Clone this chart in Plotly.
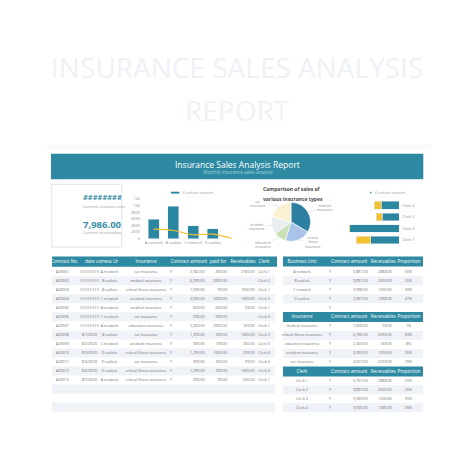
import math
import plotly.graph_objects as go

W, H = 474, 461
FONT = "Open Sans"
TEAL = "#2d8aa2"
BAR_TEAL = "#2b87a1"
YELLOW = "#f2c232"
TXT = "#6e6e6e"
LIGHT = "#9a9a9a"
STRIPE = "#eff2f6"
PIE_COLORS = ["#2c7fa0", "#a9c3e9", "#c8e0b4", "#eaeef1", "#fcf0d2"]

# ---------------- data ----------------
units = ["A network", "B outlets", "C network", "D outlets"]
unit_contract = [5887, 9897, 3998, 2997]
unit_recv = [2888, 2500, 1200, 1398]
unit_prop = ["50%", "25%", "30%", "47%"]

trend_cats = units + [" "]
trend_recv = unit_recv + [0]

ins_types = ["medical insurance", "critical illness insurance", "education insurance",
             "accident insurance", "car insurance"]
ins_contract = [7658, 4796, 2269, 3399, 4657]
ins_recv = [59, 3299, 169, 1200, 3259]
ins_prop = ["1%", "69%", "8%", "35%", "70%"]

clerks = ["Clerk 1", "Clerk 2", "Clerk 3", "Clerk 4"]
clerk_contract = [5707, 9897, 3399, 3596]
clerk_recv = [2888, 2500, 1200, 1398]
clerk_prop = ["50%", "25%", "35%", "39%"]

contract_no = ["A20001", "A20002", "A20003", "A20004", "A20005", "A20006", "A20007",
               "A20008", "A20009", "A20010", "A20011", "A20012", "A20013"]
dates = ["########"] * 7 + ["8/1/2020", "8/2/2020", "8/3/2020", "8/4/2020", "8/6/2020", "8/7/2020"]
row_units = ["A network", "B outlets", "B outlets", "C network", "A network", "C network",
             "A network", "B outlets", "C network", "D outlets", "D outlets", "D outlets", "A network"]
row_ins = ["car insurance", "medical insurance", "critical illness insurance", "accident insurance",
           "medical insurance", "car insurance", "education insurance", "car insurance",
           "accident insurance", "critical illness insurance", "car insurance",
           "critical illness insurance", "critical illness insurance"]
row_contract = [2360, 6999, 1599, 3000, 659, 599, 2269, 1299, 399, 1299, 399, 1299, 599]
row_paid = [200, 6999, 99, 2000, 600, 599, 2000, 299, 199, 1000, 300, 299, 99]
row_recv = ["2160.00", "", "1500.00", "1000.00", "59.00", "", "169.00", "1000.00",
            "200.00", "299.00", "99.00", "1000.00", "500.00"]
row_clerk = ["Clerk 1", "Clerk 2", "Clerk 1", "Clerk 3", "Clerk 1", "Clerk 4", "Clerk 1",
             "Clerk 2", "Clerk 3", "Clerk 4", "Clerk 4", "Clerk 4", "Clerk 1"]

left_headers = ["Contract No", "date", "usiness Ur", "Insurance", "Contract amount",
                "paid for", "Receivables", "Clerk"]
right_headers_rest = ["Contract amount", "Receivables", "Proportion"]


def px(x):
    return x / W


def py(y):
    return 1 - y / H


fig = go.Figure()
shapes = []
annotations = []


def rect(x0, y0, x1, y1, fill, line=None, lw=0):
    shapes.append(dict(type="rect", xref="paper", yref="paper", x0=px(x0), x1=px(x1),
                       y0=py(y1), y1=py(y0), fillcolor=fill, layer="below",
                       line=dict(width=lw, color=line or fill)))


def label(text, x, y, size, color, anchor="center", bold=False):
    if bold:
        text = "<b>" + text + "</b>"
    annotations.append(dict(text=text, x=px(x), y=py(y), xref="paper", yref="paper",
                            showarrow=False, xanchor=anchor, yanchor="middle",
                            font=dict(family=FONT, size=size, color=color)))


# ---------------- decorations ----------------
label("INSURANCE SALES ANALYSIS", 237, 65, 28, "#eef2f6")
label("REPORT", 237, 108, 28, "#eef2f6")
rect(47, 143, 431, 147, "#f8f8f5")

rect(51, 152.3, 423.3, 178.3, TEAL)
label("Insurance Sales Analysis Report", 237, 163.3, 8.5, "white")
label("Monthly insurance sales analysis", 238, 170.6, 4.6, "#a3d2de")

# KPI box
rect(51.7, 183.3, 121.7, 246.7, "white", line="#dfe4ea", lw=1)
label("########", 80.7, 195.7, 7.5, "#3a8fa6", anchor="left", bold=True)
label("Current contract amo", 80.7, 206, 4.2, LIGHT, anchor="left")
label(f"{sum(unit_recv):,.2f}", 80.7, 223.7, 9.5, "#3a8fa6", anchor="left", bold=True)
label("Current receivables", 80.7, 232.4, 4.2, LIGHT, anchor="left")

# ---------------- bar + line chart ----------------
fig.add_trace(go.Bar(x=units, y=unit_contract, marker_color=BAR_TEAL, width=0.56,
                     xaxis="x", yaxis="y", showlegend=False, hoverinfo="skip"))
fig.add_trace(go.Scatter(x=trend_cats, y=trend_recv, mode="lines",
                         line=dict(color=YELLOW, width=1.2, shape="spline", smoothing=0.9),
                         xaxis="x", yaxis="y", showlegend=False, hoverinfo="skip"))
shapes.append(dict(type="rect", xref="paper", yref="paper", x0=px(171), x1=px(179.3),
                   y0=py(192.7), y1=py(190.8), fillcolor=BAR_TEAL, line=dict(width=0)))
label("Contract amount", 180.7, 191.7, 3.8, LIGHT, anchor="left")

# ---------------- pie ----------------
PCX, PCY, PR = 291, 221.3, 19.7
fig.add_trace(go.Pie(values=ins_contract, labels=ins_types, sort=False, direction="clockwise",
                     rotation=0, textinfo="none", hoverinfo="skip", showlegend=False,
                     marker=dict(colors=PIE_COLORS, line=dict(color="white", width=0.6)),
                     domain=dict(x=[px(PCX - PR), px(PCX + PR)], y=[py(PCY + PR), py(PCY - PR)])))
label("Comparison of sales of", 292, 188.5, 5, "#4a4a4a", bold=True)
label("various insurance types", 292.5, 198.6, 5, "#4a4a4a", bold=True)
pie_label_pos = [(324.5, 206.3), (312.7, 241.5), (262.7, 243.7), (256.7, 225.8), (258.3, 202.5)]
total = sum(ins_contract)
cum = 0
for name, v, (lx, ly) in zip(ins_types, ins_contract, pie_label_pos):
    mid = (cum + v / 2) / total * 2 * math.pi
    cum += v
    tx = PCX + PR * math.sin(mid)
    ty = PCY - PR * math.cos(mid)
    annotations.append(dict(text="<br>".join(name.split()), x=px(tx), y=py(ty), xref="paper",
                            yref="paper", showarrow=True, ax=lx - tx, ay=ly - ty, arrowhead=0,
                            arrowwidth=0.4, arrowcolor="#c8c8c8", standoff=0,
                            font=dict(family=FONT, size=3.4, color="#8a8a8a")))

# ---------------- clerk stacked bars ----------------
fig.add_trace(go.Bar(y=clerks, x=clerk_contract, orientation="h", marker_color=BAR_TEAL,
                     width=0.65, xaxis="x3", yaxis="y3", showlegend=False, hoverinfo="skip"))
fig.add_trace(go.Bar(y=clerks, x=clerk_recv, orientation="h", marker_color=YELLOW,
                     width=0.65, xaxis="x3", yaxis="y3", showlegend=False, hoverinfo="skip"))
shapes.append(dict(type="circle", xref="paper", yref="paper", x0=px(369.9), x1=px(371.5),
                   y0=py(192.5), y1=py(190.9), fillcolor=BAR_TEAL, line=dict(width=0)))
label("Contract amount", 372.7, 191.7, 3.8, LIGHT, anchor="left")

# ---------------- tables ----------------
HEAD_SIZE = 4.6
CELL_SIZE = 3.7
ROW_H = 9.12


def col(x, ys, texts, pos, size=CELL_SIZE, color=TXT):
    fig.add_trace(go.Scatter(x=[x] * len(ys), y=ys, text=texts, mode="text", textposition=pos,
                             textfont=dict(family=FONT, size=size, color=color),
                             xaxis="x5", yaxis="y5", hoverinfo="skip", showlegend=False,
                             cliponaxis=False))


# left table
LX0, LX1 = 52, 277
rect(LX0, 256.2, LX1, 266.6, TEAL)
n_left = len(contract_no)
left_rows = [271.7 + i * ROW_H for i in range(n_left + 3)]
for i, y in enumerate(left_rows):
    if i % 2 == 1:
        rect(LX0, y - ROW_H / 2, LX1 - 2, y + ROW_H / 2, STRIPE)
for h, x in zip(left_headers, [64, 89.7, 107, 146, 189, 218, 243, 264]):
    col(x, [261.4], [h], "middle center", HEAD_SIZE, "white")
ys = left_rows[:n_left]
col(62.5, ys, contract_no, "middle center")
col(89.5, ys, dates, "middle center")
col(109.5, ys, row_units, "middle center")
col(146, ys, row_ins, "middle center")
col(171, ys, ["¥"] * n_left, "middle center")
col(204.5, ys, [f"{v:,.2f}" for v in row_contract], "middle left")
col(227, ys, [f"{v:.2f}" for v in row_paid], "middle left")
col(254.5, ys, row_recv, "middle left")
col(264, ys, row_clerk, "middle center")

# right tables
RX0, RX1 = 283, 423


def right_table(head_y, first_row, names, contract, recv, prop, header_name, extra_row=False):
    rect(RX0, head_y - 5, RX1, head_y + 5, TEAL)
    n = len(names) + (1 if extra_row else 0)
    rows = [first_row + i * ROW_H for i in range(n)]
    for i, y in enumerate(rows):
        if i % 2 == 1:
            rect(RX0, y - ROW_H / 2, RX1, y + ROW_H / 2, STRIPE)
    for h, x in zip([header_name] + right_headers_rest, [302, 349.3, 383.3, 409]):
        col(x, [head_y], [h], "middle center", HEAD_SIZE, "white")
    ys_ = rows[:len(names)]
    col(302, ys_, names, "middle center")
    col(330, rows, ["¥"] * n, "middle center")
    ctexts = [f"{v:,.2f}" for v in contract] + (["-   "] if extra_row else [])
    col(367.5, rows, ctexts, "middle left")
    col(391.7, ys_, [f"{v:.2f}" for v in recv], "middle left")
    col(408.5, ys_, prop, "middle center")


right_table(261.4, 271.7, units, unit_contract, unit_recv, unit_prop, "Business Unit", True)
right_table(317.5, 327.0, ins_types, ins_contract, ins_recv, ins_prop, "Insurance")
right_table(372.5, 381.8, clerks, clerk_contract, clerk_recv, clerk_prop, "Clerk")

# ---------------- layout ----------------
tickfont = dict(family=FONT, size=3.8, color="#8c8c8c")
fig.update_layout(
    width=W, height=H, autosize=False,
    margin=dict(l=0, r=0, t=0, b=0),
    paper_bgcolor="white", plot_bgcolor="rgba(0,0,0,0)",
    barmode="stack",
    shapes=shapes, annotations=annotations,
    xaxis=dict(domain=[px(143.9), px(242.4)], type="category", range=[-0.5, 4.5],
               showgrid=False, showline=False, zeroline=False, ticks="", tickfont=tickfont,
               ticklabelstandoff=0),
    yaxis=dict(domain=[py(238.3), py(198.3)], range=[0, 12000], tickvals=list(range(0, 12001, 2000)),
               showgrid=False, showline=False, zeroline=False, ticks="", tickfont=tickfont,
               ticklabelstandoff=3),
    xaxis3=dict(domain=[px(349), px(399.3)], range=[10000, 0], visible=False, anchor="y3"),
    yaxis3=dict(domain=[py(245.5), py(198.6)], type="category", side="right", anchor="x3",
                showgrid=False, showline=False, zeroline=False, ticks="", tickfont=tickfont,
                ticklabelstandoff=2),
    xaxis5=dict(domain=[0, 1], range=[0, W], visible=False, anchor="y5"),
    yaxis5=dict(domain=[0, 1], range=[H, 0], visible=False, anchor="x5"),
)

fig.write_html("out.html", config={"displayModeBar": False},
               post_script="document.body.style.margin='0';document.body.style.overflow='hidden';")
